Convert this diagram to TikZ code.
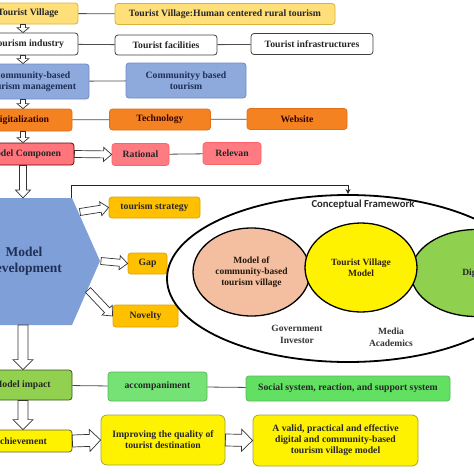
\documentclass[tikz,border=0pt]{standalone}
\usepackage{fontspec}
\setmainfont{Liberation Serif}
\newfontfamily\cfwfont{Carlito}
\usepackage{tikz}
\usetikzlibrary{arrows.meta,shapes.geometric,calc}
\definecolor{tvgold}{HTML}{FFDF7A}
\definecolor{tvedge}{HTML}{D9B23C}
\definecolor{cbblue}{HTML}{8EA9DB}
\definecolor{cbedge}{HTML}{6C8CC8}
\definecolor{cbtext}{HTML}{1F2F55}
\definecolor{dgorange}{HTML}{F58220}
\definecolor{dgedge}{HTML}{E0701A}
\definecolor{mcpink}{HTML}{FF7B82}
\definecolor{hexblue}{HTML}{7F9FD9}
\definecolor{mdgold}{HTML}{FFC000}
\definecolor{mdedge}{HTML}{DDA200}
\definecolor{imgreen}{HTML}{92D050}
\definecolor{acgreen}{HTML}{74E274}
\definecolor{scgreen}{HTML}{62E062}
\definecolor{peach}{HTML}{F4BFA0}
\definecolor{dggreen}{HTML}{8FD04F}
% block arrow: from, to, shaft half width, head half width, head length
\newcommand{\holarrow}[5]{%
  \draw[holline] let \p1=(#1), \p2=(#2), \n1={atan2(\y2-\y1,\x2-\x1)},
    \n2={veclen(\x2-\x1,\y2-\y1)} in [shift={(\p1)}, rotate=\n1]
    (0,-#3) -- (\n2-#5,-#3) -- (\n2-#5,-#4) -- (\n2,0) -- (\n2-#5,#4)
    -- (\n2-#5,#3) -- (0,#3) -- cycle;}

\begin{document}
\begin{tikzpicture}[x=1pt, y=-1pt,
  box/.style={rounded corners=3pt, line width=0.8pt, align=center, inner sep=0pt,
    font=\fontsize{9.7}{11}\selectfont\bfseries, text=black!85},
  ylw/.style={fill=tvgold, draw=tvedge},
  wht/.style={fill=white, draw=black!75},
  blu/.style={fill=cbblue, draw=cbedge, text=cbtext},
  org/.style={fill=dgorange, draw=dgedge, text=black!80!red},
  pnk/.style={fill=mcpink, draw=mcpink!80!red},
  gld/.style={fill=mdgold, draw=mdedge},
  grn/.style={fill=acgreen, draw=acgreen!80!black},
  yel/.style={fill=yellow, draw=yellow!60!black},
  link/.style={draw=black!70, line width=0.8pt},
  holline/.style={draw=black!80, fill=white, line width=0.7pt, line join=miter},
  oval/.style={ellipse, draw=black, line width=1.3pt, inner sep=0pt, align=center,
    font=\fontsize{9.5}{11}\selectfont\bfseries},
]
\useasboundingbox (0,0) rectangle (474,474);
\clip (0,0) rectangle (474,474);

% left column
\node[box, ylw, minimum width=100pt, minimum height=21pt] (tv) at (28,13.5) {Tourist Village};
\node[box, wht, minimum width=100pt, minimum height=22pt] (ti) at (28,44) {Tourism industry};
\node[box, blu, minimum width=114pt, minimum height=35pt] (cbm) at (32,81.5) {Community-based\\tourism management};
\node[box, org, minimum width=102pt, minimum height=22pt] (dig) at (21,120) {Digitalization};
\node[box, pnk, draw=red!45!black, fill=mcpink!95!red, minimum width=100pt, minimum height=22pt] (mc) at (24,154) {Model Componen};

% rows
\node[box, ylw, minimum width=220pt, minimum height=21pt] (tvh) at (225,14) {Tourist Village:Human centered rural tourism};
\node[box, wht, minimum width=102pt, minimum height=20pt] (tf) at (166,45) {Tourist facilities};
\node[box, wht, minimum width=122pt, minimum height=21pt] (tinf) at (312,44) {Tourist infrastructures};
\node[box, blu, minimum width=120pt, minimum height=35pt] (cbt) at (186,80.5) {Communityy based\\tourism};
\node[box, org, minimum width=101pt, minimum height=21pt] (tech) at (160,119.5) {Technology};
\node[box, org, minimum width=100pt, minimum height=21pt] (web) at (297,119) {Website};
\node[box, pnk, minimum width=57pt, minimum height=22pt] (rat) at (140.5,154.5) {Rational};
\node[box, pnk, minimum width=58pt, minimum height=22pt] (rel) at (232,153.5) {Relevan};

\foreach \a/\b in {tv/tvh, ti/tf, tf/tinf, cbm/cbt, dig/tech, tech/web, rat/rel}
  \draw[link] (\a) -- (\b);

% model development
\fill[hexblue] (-40,198) -- (72,198) -- (100,261) -- (72,325) -- (-40,325) -- cycle;
\node[font=\fontsize{13.5}{16}\selectfont\bfseries, text=cbtext, align=center] (dev) at (24,261) {Model\\Development};
\coordinate (dcol) at (23,0);
\coordinate (hin) at (23,198);
\coordinate (hout) at (23,325);
\coordinate (htop) at (71,198);
\coordinate (hs) at (80,212);
\coordinate (hg) at (101,261);
\coordinate (hn) at (88,290);

\node[box, gld, minimum width=91pt, minimum height=21pt] (strat) at (154.5,207.5) {tourism strategy};
\node[box, gld, minimum width=39pt, minimum height=21pt] (gap) at (147.5,263.5) {Gap};
\node[box, gld, minimum width=65pt, minimum height=22pt] (nov) at (145.5,316) {Novelty};

\foreach \a/\b in {tv/ti, ti/cbm, cbm/dig, dig/mc}
  \holarrow{\a.south -| dcol}{\b.north -| dcol}{2.5}{6}{5};
\holarrow{mc.south -| dcol}{hin}{3.5}{7.5}{8}
\holarrow{mc.east}{rat.west}{3.5}{7}{8}
\holarrow{hs}{strat.west}{3.5}{7}{8}
\holarrow{hg}{gap.west}{3.5}{7}{8}
\holarrow{hn}{nov.west}{3.5}{7}{8}

% conceptual framework
\node[ellipse, draw=black, line width=1.8pt, minimum width=362pt, minimum height=167pt] (frame) at (348,278.5) {};
\node[font=\cfwfont\fontsize{10.7}{12}\selectfont\bfseries, text=black!85] (cfw) at (363,205) {Conceptual Framework};
\node[oval, fill=peach, minimum width=117pt, minimum height=88pt, text=black!80!brown] (mcv) at (251.5,272) {Model of\\community-based\\tourism village};
\node[oval, fill=dggreen, minimum width=130pt, minimum height=87pt, text=black!85] (dgv) at (476,273) {Digital};
\node[oval, fill=yellow, minimum width=112pt, minimum height=89pt, text=black!75!brown] (tvm) at (361,267.5) {Tourist Village\\Model};
\node[font=\fontsize{9.5}{12}\selectfont\bfseries, text=black!80, align=center] (gov) at (297,334) {Government\\Investor};
\node[font=\fontsize{9.5}{12}\selectfont\bfseries, text=black!80, align=center] (med) at (391,337) {Media\\Academics};
\draw[black!85, line width=0.8pt, -{Stealth[length=5pt, width=5pt]}] (htop) -- ++(0,-13) -| (frame.north);

% impact and achievement
\node[box, fill=imgreen, draw=imgreen!40!black, minimum width=100pt, minimum height=30pt] (imp) at (22,385) {Model impact};
\node[box, grn, minimum width=99pt, minimum height=29pt] (acc) at (157.5,386.5) {accompaniment};
\node[box, grn, fill=scgreen, minimum width=204pt, minimum height=25pt] (soc) at (348,388.5) {Social system, reaction, and support system};
\node[box, yel, draw=black!70!yellow, minimum width=104pt, minimum height=22pt] (ach) at (20,441) {Achievement};
\node[box, yel, rounded corners=6pt, minimum width=124pt, minimum height=50pt] (qual) at (163,440) {Improving the quality of\\tourist destination};
\node[box, yel, rounded corners=6pt, minimum width=165pt, minimum height=51pt] (valid) at (335.5,440.5) {A valid, practical and effective\\digital and community-based\\tourism village model};

\foreach \a/\b in {imp/acc, acc/soc}
  \draw[link] (\a) -- (\b);
\holarrow{hout}{imp.north -| dcol}{5}{10}{10}
\holarrow{imp.south -| dcol}{ach.north -| dcol}{5}{10}{10}
\holarrow{ach.east}{qual.west}{6}{11}{11}
\holarrow{qual.east}{valid.west}{6}{11}{11}
\end{tikzpicture}
\end{document}
